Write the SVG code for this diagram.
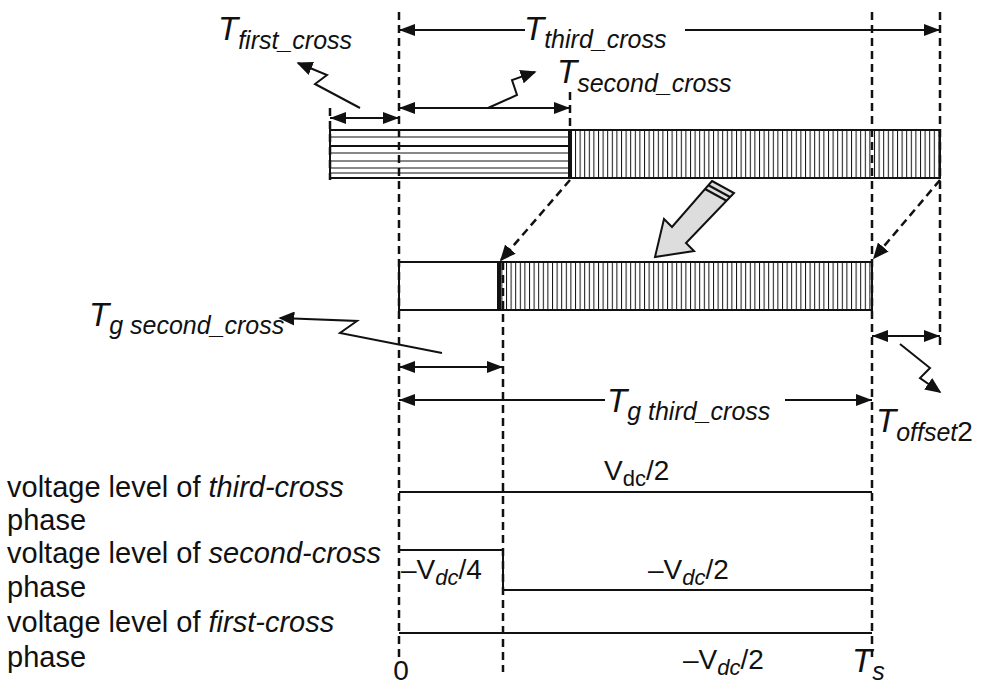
<svg xmlns="http://www.w3.org/2000/svg" width="999" height="698" viewBox="0 0 999 698">
<style>
text{font-family:"Liberation Sans",Arial,sans-serif;fill:#111}
.t{font-size:33px;font-style:italic}
.s{font-size:25px;font-style:italic}
.n{font-size:28px}
.v{font-size:29px}
.d{stroke:#111;stroke-width:2.5;stroke-dasharray:8,5;fill:none}
.l{stroke:#111;stroke-width:2;fill:none}
.a{stroke:#111;stroke-width:2;fill:none;marker-start:url(#m);marker-end:url(#m)}
.h{stroke:#111;stroke-width:1}
</style>
<defs>
<marker id="m" viewBox="0 0 10 10" refX="10" refY="5" markerWidth="16" markerHeight="12" orient="auto-start-reverse" markerUnits="userSpaceOnUse" preserveAspectRatio="none"><path d="M0,0L10,5L0,10z" fill="#111"/></marker>
<marker id="m2" viewBox="0 0 10 10" refX="9" refY="5" markerWidth="16" markerHeight="14" orient="auto" markerUnits="userSpaceOnUse" preserveAspectRatio="none"><path d="M0,0L10,5L0,10z" fill="#111"/></marker>
<pattern id="vh" width="4.6" height="10" patternUnits="userSpaceOnUse"><line x1="0.5" y1="0" x2="0.5" y2="10" class="h"/></pattern>
</defs>
<g id="guides">
<line x1="399" y1="12" x2="399" y2="660" class="d"/>
<line x1="872" y1="12" x2="872" y2="660" class="d"/>
<line x1="940" y1="12" x2="940" y2="350" class="d"/>
<line x1="503" y1="262" x2="503" y2="672" class="d"/>
<line x1="570" y1="92" x2="570" y2="128" class="d"/>
<line x1="330" y1="108" x2="330" y2="180" class="d"/>
</g>
<g id="top-bar">
<rect x="330" y="130" width="240" height="48" fill="#fff" class="l"/>
<g class="h">
<line x1="330" y1="137" x2="570" y2="137"/><line x1="330" y1="146" x2="570" y2="146" stroke-width="2"/>
<line x1="330" y1="153" x2="570" y2="153"/><line x1="330" y1="161" x2="570" y2="161"/>
<line x1="330" y1="168" x2="570" y2="168"/><line x1="330" y1="173" x2="570" y2="173"/>
</g>
<rect x="570" y="130" width="370" height="48" fill="url(#vh)"/>
<rect x="570" y="130" width="370" height="48" class="l"/>
<line x1="570" y1="130" x2="570" y2="178" stroke="#111" stroke-width="4"/>
</g>
<g id="bottom-bar">
<rect x="399" y="262" width="100" height="48" fill="#fff" class="l"/>
<rect x="499" y="262" width="373" height="48" fill="url(#vh)"/>
<rect x="499" y="262" width="373" height="48" class="l"/>
<line x1="499" y1="262" x2="499" y2="310" stroke="#111" stroke-width="4"/>
</g>
<g id="big-arrow">
<polygon points="712,181 734,193 686,243 694,251 655,257 664,219 672,227" fill="#ddd" stroke="#111" stroke-width="2"/>
<line x1="708" y1="185" x2="730" y2="197" stroke="#111" stroke-width="2"/>
<line x1="705" y1="189" x2="727" y2="201" stroke="#111" stroke-width="2"/>
</g>
<g id="connectors">
<line x1="399" y1="30" x2="525" y2="30" class="l" marker-start="url(#m)"/>
<line x1="685" y1="30" x2="940" y2="30" class="l" marker-end="url(#m)"/>
<line x1="330" y1="118" x2="399" y2="118" class="a"/>
<line x1="399" y1="108" x2="570" y2="108" class="a"/>
<line x1="399" y1="367" x2="503" y2="367" class="a"/>
<line x1="399" y1="400" x2="605" y2="400" class="l" marker-start="url(#m)"/>
<line x1="785" y1="400" x2="872" y2="400" class="l" marker-end="url(#m)"/>
<line x1="872" y1="336" x2="940" y2="336" class="a"/>
<line x1="570" y1="180" x2="501" y2="260" class="d" stroke-width="2" marker-end="url(#m2)"/>
<line x1="940" y1="180" x2="874" y2="258" class="d" stroke-width="2" marker-end="url(#m2)"/>
<polyline points="360,108 315,84 327,75 298,63" class="l" marker-end="url(#m2)"/>
<polyline points="488,108 517,95 512,80 535,72" class="l" marker-end="url(#m2)"/>
<polyline points="442,353 340,333 357,321 280,318" class="l" marker-end="url(#m2)"/>
<polyline points="900,344 930,368 920,378 940,392" class="l" marker-end="url(#m2)"/>
</g>
<g id="levels">
<line x1="399" y1="492" x2="872" y2="492" class="l"/>
<polyline points="399,550 503,550 503,590 872,590" class="l"/>
<line x1="399" y1="633" x2="872" y2="633" class="l"/>
</g>
<g id="labels">
<text x="218" y="40" class="t">T<tspan class="s" dy="9">first_cross</tspan></text>
<text x="524" y="40" class="t">T<tspan class="s" dy="8">third_cross</tspan></text>
<text x="557" y="83" class="t">T<tspan class="s" dy="9">second_cross</tspan></text>
<text x="89" y="326" class="t">T<tspan class="s" dy="8">g second_cross</tspan></text>
<text x="607" y="412" class="t">T<tspan class="s" dy="8">g third_cross</tspan></text>
<text x="876" y="432" class="t">T<tspan class="s" dy="9">offset</tspan><tspan class="n" font-style="normal" font-size="24">2</tspan></text>
<text x="7" y="497" class="v">voltage level of <tspan font-style="italic">third-cross</tspan></text>
<text x="7" y="530" class="v">phase</text>
<text x="7" y="563" class="v">voltage level of <tspan font-style="italic">second-cross</tspan></text>
<text x="7" y="597" class="v">phase</text>
<text x="7" y="632" class="v">voltage level of <tspan font-style="italic">first-cross</tspan></text>
<text x="7" y="667" class="v">phase</text>
<text x="604" y="480" class="n">V<tspan dy="6" font-size="22">dc</tspan><tspan dy="-6">/2</tspan></text>
<text x="401" y="579" class="n">–V<tspan dy="6" font-size="22" font-style="italic">dc</tspan><tspan dy="-6">/4</tspan></text>
<text x="648" y="579" class="n">–V<tspan dy="6" font-size="22" font-style="italic">dc</tspan><tspan dy="-6">/2</tspan></text>
<text x="683" y="669" class="n">–V<tspan dy="6" font-size="22" font-style="italic">dc</tspan><tspan dy="-6">/2</tspan></text>
<text x="401" y="680" class="n" text-anchor="middle">0</text>
<text x="852" y="672" class="t" font-size="28">T<tspan class="s" font-size="20" dy="8">s</tspan></text>
</g>
</svg>
